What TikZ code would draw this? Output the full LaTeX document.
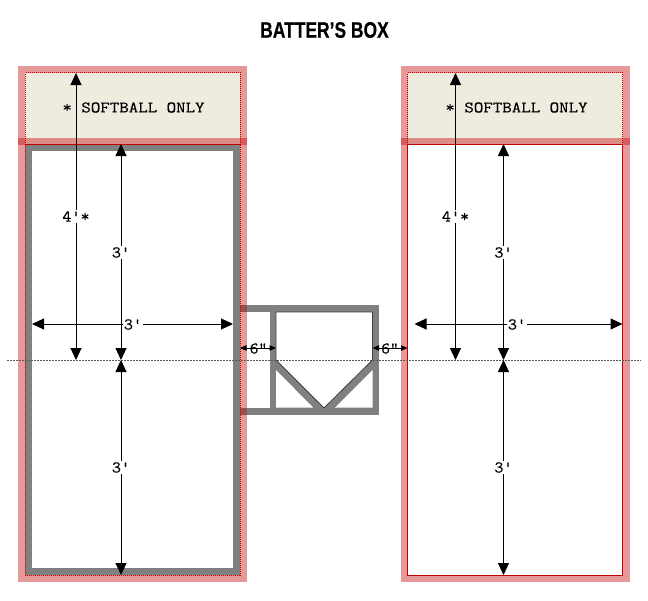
\documentclass[tikz,border=0pt]{standalone}
\usepackage{fontspec}
\setmonofont[FakeBold=0.35]{Latin Modern Mono}
\setsansfont[BoldFeatures={FakeBold=0.6}]{Liberation Sans}
\usetikzlibrary{arrows.meta}
\definecolor{beige}{HTML}{EEEBDF}
\definecolor{framegray}{HTML}{808080}
\definecolor{zonered}{HTML}{C40000}
\tikzset{
  x=1pt,y=-1pt,
  every node/.style={inner sep=0pt,outer sep=0pt},
  halo/.style={draw=zonered,draw opacity=0.4,line width=7pt,fill=none},
  dotline/.style={draw=zonered,line width=1pt,dash pattern=on 1pt off 1pt},
  zoneline/.style={draw=zonered,line width=1pt},
  framestroke/.style={draw=framegray,line width=7pt},
  measureboth/.style={draw=black,line width=1pt,{Triangle[length=12pt,width=11pt]}-{Triangle[length=12pt,width=11pt]}},
  smallmeasure/.style={draw=black,line width=0.8pt,{Triangle[length=6.5pt,width=5.5pt]}-{Triangle[length=6.5pt,width=5.5pt]}},
  dimlabel/.style={fill=white,font=\ttfamily\fontsize{16.5}{17}\selectfont,xscale=1.07,inner xsep=1pt,inner ysep=1pt},
  smalllabel/.style={font=\ttfamily\fontsize{16.5}{17}\selectfont,xscale=1.03},
  softlabel/.style={font=\ttfamily\fontsize{16}{17}\selectfont,xscale=1.15},
  titletext/.style={font=\sffamily\bfseries\fontsize{22.5}{24}\selectfont,xscale=0.775},
}
\begin{document}
\begin{tikzpicture}
\useasboundingbox (0,0) rectangle (648,600);
\node[titletext] (title) at (324.5,30) {BATTER’S BOX};
% soft-ball bands
\fill[beige] (25,73) rectangle (240,144);
\fill[beige] (407.5,73) rectangle (622.5,144);
% gray batter frame
\draw[framestroke] (28.5,147.5) rectangle (236.5,571.5);
% home plate assembly
\draw[framestroke] (236.5,308.5) -- (375.5,308.5);
\draw[framestroke] (236.5,411) -- (375.5,411);
\fill[framegray] (269.5,305) rectangle (379,414.5);
\fill[white] (276,370) -- (276,407.5) -- (313,407.5) -- cycle;
\fill[white] (372.5,370) -- (372.5,407.5) -- (335,407.5) -- cycle;
\draw[fill=white,draw=black!75,line width=0.8pt] (276,312) -- (372.5,312) -- (372.5,360) -- (324,408) -- (276,360) -- cycle;
% left box zones
\draw[halo,line cap=butt] (21.5,144.5) -- (21.5,69.5) -- (243.5,69.5) -- (243.5,144.5);
\draw[halo] (21.5,141) rectangle (243.5,578.5);
\draw[dotline] (25.5,144.5) -- (25.5,72.5) -- (240.5,72.5) -- (240.5,144.5);
\draw[zoneline] (25.5,144.5) -- (240.5,144.5);
\draw[dotline] (25.5,144.5) -- (25.5,575.5) -- (240.5,575.5) -- (240.5,144.5);
% right box zones
\draw[halo,line cap=butt] (404,144.5) -- (404,69.5) -- (626,69.5) -- (626,144.5);
\draw[halo] (404,141) rectangle (626,578.5);
\draw[dotline] (407.5,144.5) -- (407.5,72.5) -- (622.5,72.5) -- (622.5,144.5);
\draw[zoneline] (407.5,144.5) -- (622.5,144.5);
\draw[zoneline] (407.5,144.5) -- (407.5,575.5) -- (622.5,575.5) -- (622.5,144.5);
% centre line
\coordinate (cl) at (7,360);
\coordinate (cr) at (641,360);
\draw[draw=black!65,line width=1pt,dash pattern=on 2pt off 1pt] (cl) -- (cr);
% labels of soft-ball zone
\node[softlabel] (softL) at (133.5,107.5) {* SOFTBALL ONLY};
\node[softlabel] (softR) at (516.5,107.5) {* SOFTBALL ONLY};
% left measures
\coordinate (LaT) at (76,73);   \coordinate (LaB) at (76,360);
\coordinate (LbT) at (121,144); \coordinate (LbM) at (121,360); \coordinate (LbB) at (121,575);
\coordinate (LcL) at (32,324);  \coordinate (LcR) at (233,324);
\draw[measureboth] (LaT) -- (LaB);
\draw[measureboth] (LbT) -- (LbM);
\draw[measureboth] (LbM) -- (LbB);
\draw[measureboth] (LcL) -- (LcR);
\node[dimlabel] (l4) at (76,216.5) {4'*};
\node[dimlabel] (l3a) at (121,252.5) {3'};
\node[dimlabel] (l3b) at (121,467.5) {3'};
\node[dimlabel] (l3c) at (133,324.5) {3'};
% right measures
\coordinate (RaT) at (455.5,73);  \coordinate (RaB) at (455.5,360);
\coordinate (RbT) at (503.5,144); \coordinate (RbM) at (503.5,360); \coordinate (RbB) at (503.5,575);
\coordinate (RcL) at (414.5,324); \coordinate (RcR) at (622.5,324);
\draw[measureboth] (RaT) -- (RaB);
\draw[measureboth] (RbT) -- (RbM);
\draw[measureboth] (RbM) -- (RbB);
\draw[measureboth] (RcL) -- (RcR);
\node[dimlabel] (r4) at (455.5,216.5) {4'*};
\node[dimlabel] (r3a) at (503.5,252.5) {3'};
\node[dimlabel] (r3b) at (503.5,467.5) {3'};
\node[dimlabel] (r3c) at (517,324.5) {3'};
% six inch gaps
\coordinate (gLa) at (240,348); \coordinate (gLb) at (276,348);
\coordinate (gRa) at (372.5,348); \coordinate (gRb) at (407.5,348);
\draw[smallmeasure] (gLa) -- (gLb);
\draw[smallmeasure] (gRa) -- (gRb);
\node[smalllabel] (g6L) at (258.5,348.5) {6"};
\node[smalllabel] (g6R) at (390,348.5) {6"};
\end{tikzpicture}
\end{document}
